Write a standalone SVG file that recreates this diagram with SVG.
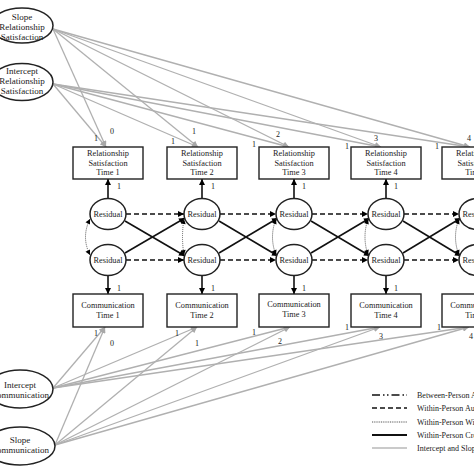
<svg xmlns="http://www.w3.org/2000/svg" width="474" height="474" viewBox="0 0 474 474">
<defs>
<marker id="ab" viewBox="0 0 10 10" refX="10" refY="5" markerWidth="7" markerHeight="6" orient="auto" markerUnits="userSpaceOnUse"><path d="M0,0 L10,5 L0,10 z" fill="#000"/></marker>
<marker id="ag" viewBox="0 0 10 10" refX="10" refY="5" markerWidth="7" markerHeight="6" orient="auto" markerUnits="userSpaceOnUse"><path d="M0,0 L10,5 L0,10 z" fill="#a8a8a8"/></marker>
<marker id="ad" viewBox="0 0 10 10" refX="10" refY="5" markerWidth="6" markerHeight="5" orient="auto-start-reverse" markerUnits="userSpaceOnUse"><path d="M0,0 L10,5 L0,10 z" fill="#000"/></marker>
<style>
text{font-family:"Liberation Serif","Times New Roman",serif;fill:#222;text-anchor:middle}
.t9{font-size:9px}
.t8{font-size:8.3px}
.lab{font-size:8px}
.leg{font-size:8px;text-anchor:start}
.box{fill:#fff;stroke:#222;stroke-width:1.4}
.ell{fill:#fff;stroke:#222;stroke-width:1.5}
.g{stroke:#b0b0b0;stroke-width:1.3;fill:none;marker-end:url(#ag)}
.ar{stroke:#111;stroke-width:1.4;stroke-dasharray:5,3;fill:none;marker-end:url(#ab)}
.cl{stroke:#111;stroke-width:1.6;fill:none;marker-end:url(#ab)}
.vt{stroke:#111;stroke-width:1.6;fill:none;marker-end:url(#ab)}
.wt{stroke:#555;stroke-width:1;stroke-dasharray:1,1;fill:none;marker-start:url(#ad);marker-end:url(#ad)}
</style>
</defs>
<rect width="474" height="474" fill="#fff"/>

<g id="connectors">
<!-- gray loadings top -->
<path class="g" d="M53,29 L106,147"/>
<path class="g" d="M53,84 L106,147"/>
<path class="g" d="M53,29 L198,147"/>
<path class="g" d="M53,84 L198,147"/>
<path class="g" d="M53,29 L289,147"/>
<path class="g" d="M53,84 L289,147"/>
<path class="g" d="M53,29 L381,147"/>
<path class="g" d="M53,84 L381,147"/>
<path class="g" d="M53,29 L470,147"/>
<path class="g" d="M53,84 L470,147"/>
<!-- gray loadings bottom -->
<path class="g" d="M53,388 L105,327"/>
<path class="g" d="M55,445 L105,327"/>
<path class="g" d="M53,388 L197,327"/>
<path class="g" d="M55,445 L197,327"/>
<path class="g" d="M53,388 L290,327"/>
<path class="g" d="M55,445 L290,327"/>
<path class="g" d="M53,388 L380,327"/>
<path class="g" d="M55,445 L380,327"/>
<path class="g" d="M53,388 L469,327"/>
<path class="g" d="M55,445 L469,327"/>
<!-- residual to boxes -->
<path class="vt" d="M108,198.5 L108,179"/>
<path class="vt" d="M202,198.5 L202,179"/>
<path class="vt" d="M294,198.5 L294,179"/>
<path class="vt" d="M386,198.5 L386,179"/>
<path class="vt" d="M477,198.5 L477,179"/>
<path class="vt" d="M108,275.5 L108,294"/>
<path class="vt" d="M202,275.5 L202,294"/>
<path class="vt" d="M294,275.5 L294,294"/>
<path class="vt" d="M386,275.5 L386,294"/>
<path class="vt" d="M477,275.5 L477,294"/>
<!-- autoregressive -->
<path class="ar" d="M126,214 L184,214"/>
<path class="ar" d="M220,214 L276,214"/>
<path class="ar" d="M312,214 L368,214"/>
<path class="ar" d="M404,214 L459,214"/>
<path class="ar" d="M126,260 L184,260"/>
<path class="ar" d="M220,260 L276,260"/>
<path class="ar" d="M312,260 L368,260"/>
<path class="ar" d="M404,260 L459,260"/>
<!-- cross-lagged -->
<path class="cl" d="M125,221 L185,256"/>
<path class="cl" d="M125,253 L185,218"/>
<path class="cl" d="M219,221 L278,256"/>
<path class="cl" d="M219,253 L278,218"/>
<path class="cl" d="M311,221 L370,256"/>
<path class="cl" d="M311,253 L370,218"/>
<path class="cl" d="M403,221 L461,256"/>
<path class="cl" d="M403,253 L461,218"/>
<!-- within-time -->
<path class="wt" d="M90,219 Q81,237 90,255"/>
<path class="wt" d="M184,219 Q181,237 184,255"/>
<path class="wt" d="M276,219 Q269,237 276,255"/>
<path class="wt" d="M368,219 Q362,237 368,255"/>
<path class="wt" d="M459,219 Q452,237 459,255"/>
</g>

<!-- latent factors -->
<g id="slope-rs">
<ellipse class="ell" cx="22" cy="25.5" rx="31" ry="17.5"/>
<text class="t9" x="22" y="20">Slope</text>
<text class="t9" x="22" y="30">Relationship</text>
<text class="t9" x="22" y="40">Satisfaction</text>
</g>
<g id="intercept-rs">
<ellipse class="ell" cx="22" cy="82" rx="31" ry="18.5"/>
<text class="t9" x="22" y="74">Intercept</text>
<text class="t9" x="22" y="84">Relationship</text>
<text class="t9" x="22" y="94">Satisfaction</text>
</g>
<g id="intercept-comm">
<ellipse class="ell" cx="20" cy="389" rx="33" ry="19"/>
<text class="t9" x="20" y="388">Intercept</text>
<text class="t9" x="20" y="397.5">Communication</text>
</g>
<g id="slope-comm">
<ellipse class="ell" cx="20" cy="446" rx="35" ry="19"/>
<text class="t9" x="20" y="443">Slope</text>
<text class="t9" x="20" y="453">Communication</text>
</g>

<!-- relationship satisfaction boxes -->
<g id="rs1"><rect class="box" x="73" y="147" width="70" height="32"/>
<text class="t8" x="108" y="156">Relationship</text><text class="t8" x="108" y="165.5">Satisfaction</text><text class="t8" x="108" y="175">Time 1</text></g>
<g id="rs2"><rect class="box" x="167" y="147" width="70" height="32"/>
<text class="t8" x="202" y="156">Relationship</text><text class="t8" x="202" y="165.5">Satisfaction</text><text class="t8" x="202" y="175">Time 2</text></g>
<g id="rs3"><rect class="box" x="259" y="147" width="70" height="32"/>
<text class="t8" x="294" y="156">Relationship</text><text class="t8" x="294" y="165.5">Satisfaction</text><text class="t8" x="294" y="175">Time 3</text></g>
<g id="rs4"><rect class="box" x="351" y="147" width="70" height="32"/>
<text class="t8" x="386" y="156">Relationship</text><text class="t8" x="386" y="165.5">Satisfaction</text><text class="t8" x="386" y="175">Time 4</text></g>
<g id="rs5"><rect class="box" x="442" y="147" width="70" height="32"/>
<text class="t8" x="477" y="156">Relationship</text><text class="t8" x="477" y="165.5">Satisfaction</text><text class="t8" x="477" y="175">Time 5</text></g>

<!-- residuals -->
<g id="res-u1"><ellipse class="ell" cx="108" cy="214" rx="18" ry="15.5"/><text class="t8" x="108" y="217">Residual</text></g>
<g id="res-u2"><ellipse class="ell" cx="202" cy="214" rx="18" ry="15.5"/><text class="t8" x="202" y="217">Residual</text></g>
<g id="res-u3"><ellipse class="ell" cx="294" cy="214" rx="18" ry="15.5"/><text class="t8" x="294" y="217">Residual</text></g>
<g id="res-u4"><ellipse class="ell" cx="386" cy="214" rx="18" ry="15.5"/><text class="t8" x="386" y="217">Residual</text></g>
<g id="res-u5"><ellipse class="ell" cx="477" cy="214" rx="18" ry="15.5"/><text class="t8" x="477" y="217">Residual</text></g>
<g id="res-l1"><ellipse class="ell" cx="108" cy="260" rx="18" ry="15.5"/><text class="t8" x="108" y="263">Residual</text></g>
<g id="res-l2"><ellipse class="ell" cx="202" cy="260" rx="18" ry="15.5"/><text class="t8" x="202" y="263">Residual</text></g>
<g id="res-l3"><ellipse class="ell" cx="294" cy="260" rx="18" ry="15.5"/><text class="t8" x="294" y="263">Residual</text></g>
<g id="res-l4"><ellipse class="ell" cx="386" cy="260" rx="18" ry="15.5"/><text class="t8" x="386" y="263">Residual</text></g>
<g id="res-l5"><ellipse class="ell" cx="477" cy="260" rx="18" ry="15.5"/><text class="t8" x="477" y="263">Residual</text></g>

<!-- communication boxes -->
<g id="c1"><rect class="box" x="73" y="294" width="70" height="33"/>
<text class="t8" x="108" y="308">Communication</text><text class="t8" x="108" y="317.5">Time 1</text></g>
<g id="c2"><rect class="box" x="167" y="294" width="70" height="33"/>
<text class="t8" x="202" y="308">Communication</text><text class="t8" x="202" y="317.5">Time 2</text></g>
<g id="c3"><rect class="box" x="259" y="294" width="70" height="33"/>
<text class="t8" x="294" y="307">Communication</text><text class="t8" x="294" y="316.5">Time 3</text></g>
<g id="c4"><rect class="box" x="351" y="294" width="70" height="33"/>
<text class="t8" x="386" y="308">Communication</text><text class="t8" x="386" y="317.5">Time 4</text></g>
<g id="c5"><rect class="box" x="442" y="294" width="70" height="33"/>
<text class="t8" x="477" y="308">Communication</text><text class="t8" x="477" y="317.5">Time 5</text></g>

<!-- loading labels -->
<g id="labels">
<text class="lab" x="96" y="141">1</text><text class="lab" x="112" y="134">0</text>
<text class="lab" x="173" y="144">1</text><text class="lab" x="194" y="134">1</text>
<text class="lab" x="254" y="147">1</text><text class="lab" x="278" y="137">2</text>
<text class="lab" x="347" y="149">1</text><text class="lab" x="376" y="141">3</text>
<text class="lab" x="437" y="149">1</text><text class="lab" x="469" y="141">4</text>
<text class="lab" x="119" y="189">1</text><text class="lab" x="213" y="189">1</text><text class="lab" x="304" y="189">1</text><text class="lab" x="396" y="189">1</text>
<text class="lab" x="119" y="291">1</text><text class="lab" x="213" y="291">1</text><text class="lab" x="304" y="291">1</text><text class="lab" x="396" y="291">1</text>
<text class="lab" x="96" y="336">1</text><text class="lab" x="112" y="346">0</text>
<text class="lab" x="177" y="336">1</text><text class="lab" x="197" y="346">1</text>
<text class="lab" x="254" y="335">1</text><text class="lab" x="280" y="344">2</text>
<text class="lab" x="347" y="330">1</text><text class="lab" x="381" y="339">3</text>
<text class="lab" x="439" y="330">1</text><text class="lab" x="471" y="339">4</text>
</g>

<!-- legend -->
<g id="legend">
<line x1="372" y1="395" x2="407" y2="395" stroke="#111" stroke-width="1.6" stroke-dasharray="8,3,1.5,2.5,1.5,3"/>
<line x1="372" y1="408" x2="407" y2="408" stroke="#111" stroke-width="1.5" stroke-dasharray="5,3"/>
<line x1="372" y1="422" x2="407" y2="422" stroke="#555" stroke-width="1" stroke-dasharray="1,0.8"/>
<line x1="372" y1="435" x2="407" y2="435" stroke="#111" stroke-width="1.8"/>
<line x1="372" y1="448" x2="407" y2="448" stroke="#b8b8b8" stroke-width="1.5"/>
<text class="leg" x="417" y="398">Between-Person Association</text>
<text class="leg" x="417" y="411">Within-Person Autoregressive</text>
<text class="leg" x="417" y="425">Within-Person Within-Time</text>
<text class="leg" x="417" y="438">Within-Person Cross-Lagged</text>
<text class="leg" x="417" y="451">Intercept and Slope Factors</text>
</g>
</svg>
